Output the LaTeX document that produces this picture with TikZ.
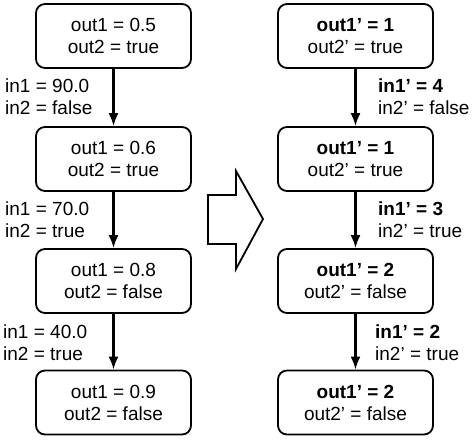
\documentclass[tikz,border=0pt]{standalone}
\usepackage{fontspec}
\setmainfont{Liberation Sans}
\usetikzlibrary{arrows.meta}
\begin{document}
\begin{tikzpicture}[x=1pt,y=-1pt,
  statebox/.style={draw,line width=1.8pt,rounded corners=9pt,minimum width=155pt,minimum height=64pt,inner sep=0pt,align=center,font=\fontsize{19}{22}\selectfont},
  lbl/.style={anchor=west,align=left,inner sep=0pt,font=\fontsize{19}{22}\selectfont},
  flow/.style={draw,line width=2.2pt,-{Latex[length=13pt,width=10pt]}}]
\useasboundingbox (0,0) rectangle (474,440);
% left column
\node[statebox] (l1) at (113.5,36) {out1 = 0.5\\out2 = true};
\node[statebox] (l2) at (113.5,159) {out1 = 0.6\\out2 = true};
\node[statebox] (l3) at (113.5,281) {out1 = 0.8\\out2 = false};
\node[statebox] (l4) at (113.5,402.5) {out1 = 0.9\\out2 = false};
\draw[flow] (l1.south) -- (l2.north);
\draw[flow] (l2.south) -- (l3.north);
\draw[flow] (l3.south) -- (l4.north);
\node[lbl] (la) at (5,97) {in1 = 90.0\\in2 = false};
\node[lbl] (lb) at (5,219.5) {in1 = 70.0\\in2 = true};
\node[lbl] (lc) at (3,342.5) {in1 = 40.0\\in2 = true};
% right column
\node[statebox] (r1) at (355.5,36) {\textbf{out1’ = 1}\\out2’ = true};
\node[statebox] (r2) at (355.5,159) {\textbf{out1’ = 1}\\out2’ = true};
\node[statebox] (r3) at (355.5,281) {\textbf{out1’ = 2}\\out2’ = false};
\node[statebox] (r4) at (355.5,402.5) {\textbf{out1’ = 2}\\out2’ = false};
\draw[flow] (r1.south) -- (r2.north);
\draw[flow] (r2.south) -- (r3.north);
\draw[flow] (r3.south) -- (r4.north);
\node[lbl] (ra) at (378,97) {\textbf{in1’ = 4}\\in2’ = false};
\node[lbl] (rb) at (378,219.5) {\textbf{in1’ = 3}\\in2’ = true};
\node[lbl] (rc) at (375,342.5) {\textbf{in1’ = 2}\\in2’ = true};
% big hollow arrow
\draw[line width=1.8pt,line join=miter] (208,195) -- (236,195) -- (236,171) -- (263,219) -- (236,269) -- (236,244) -- (208,244) -- cycle;
\end{tikzpicture}
\end{document}
